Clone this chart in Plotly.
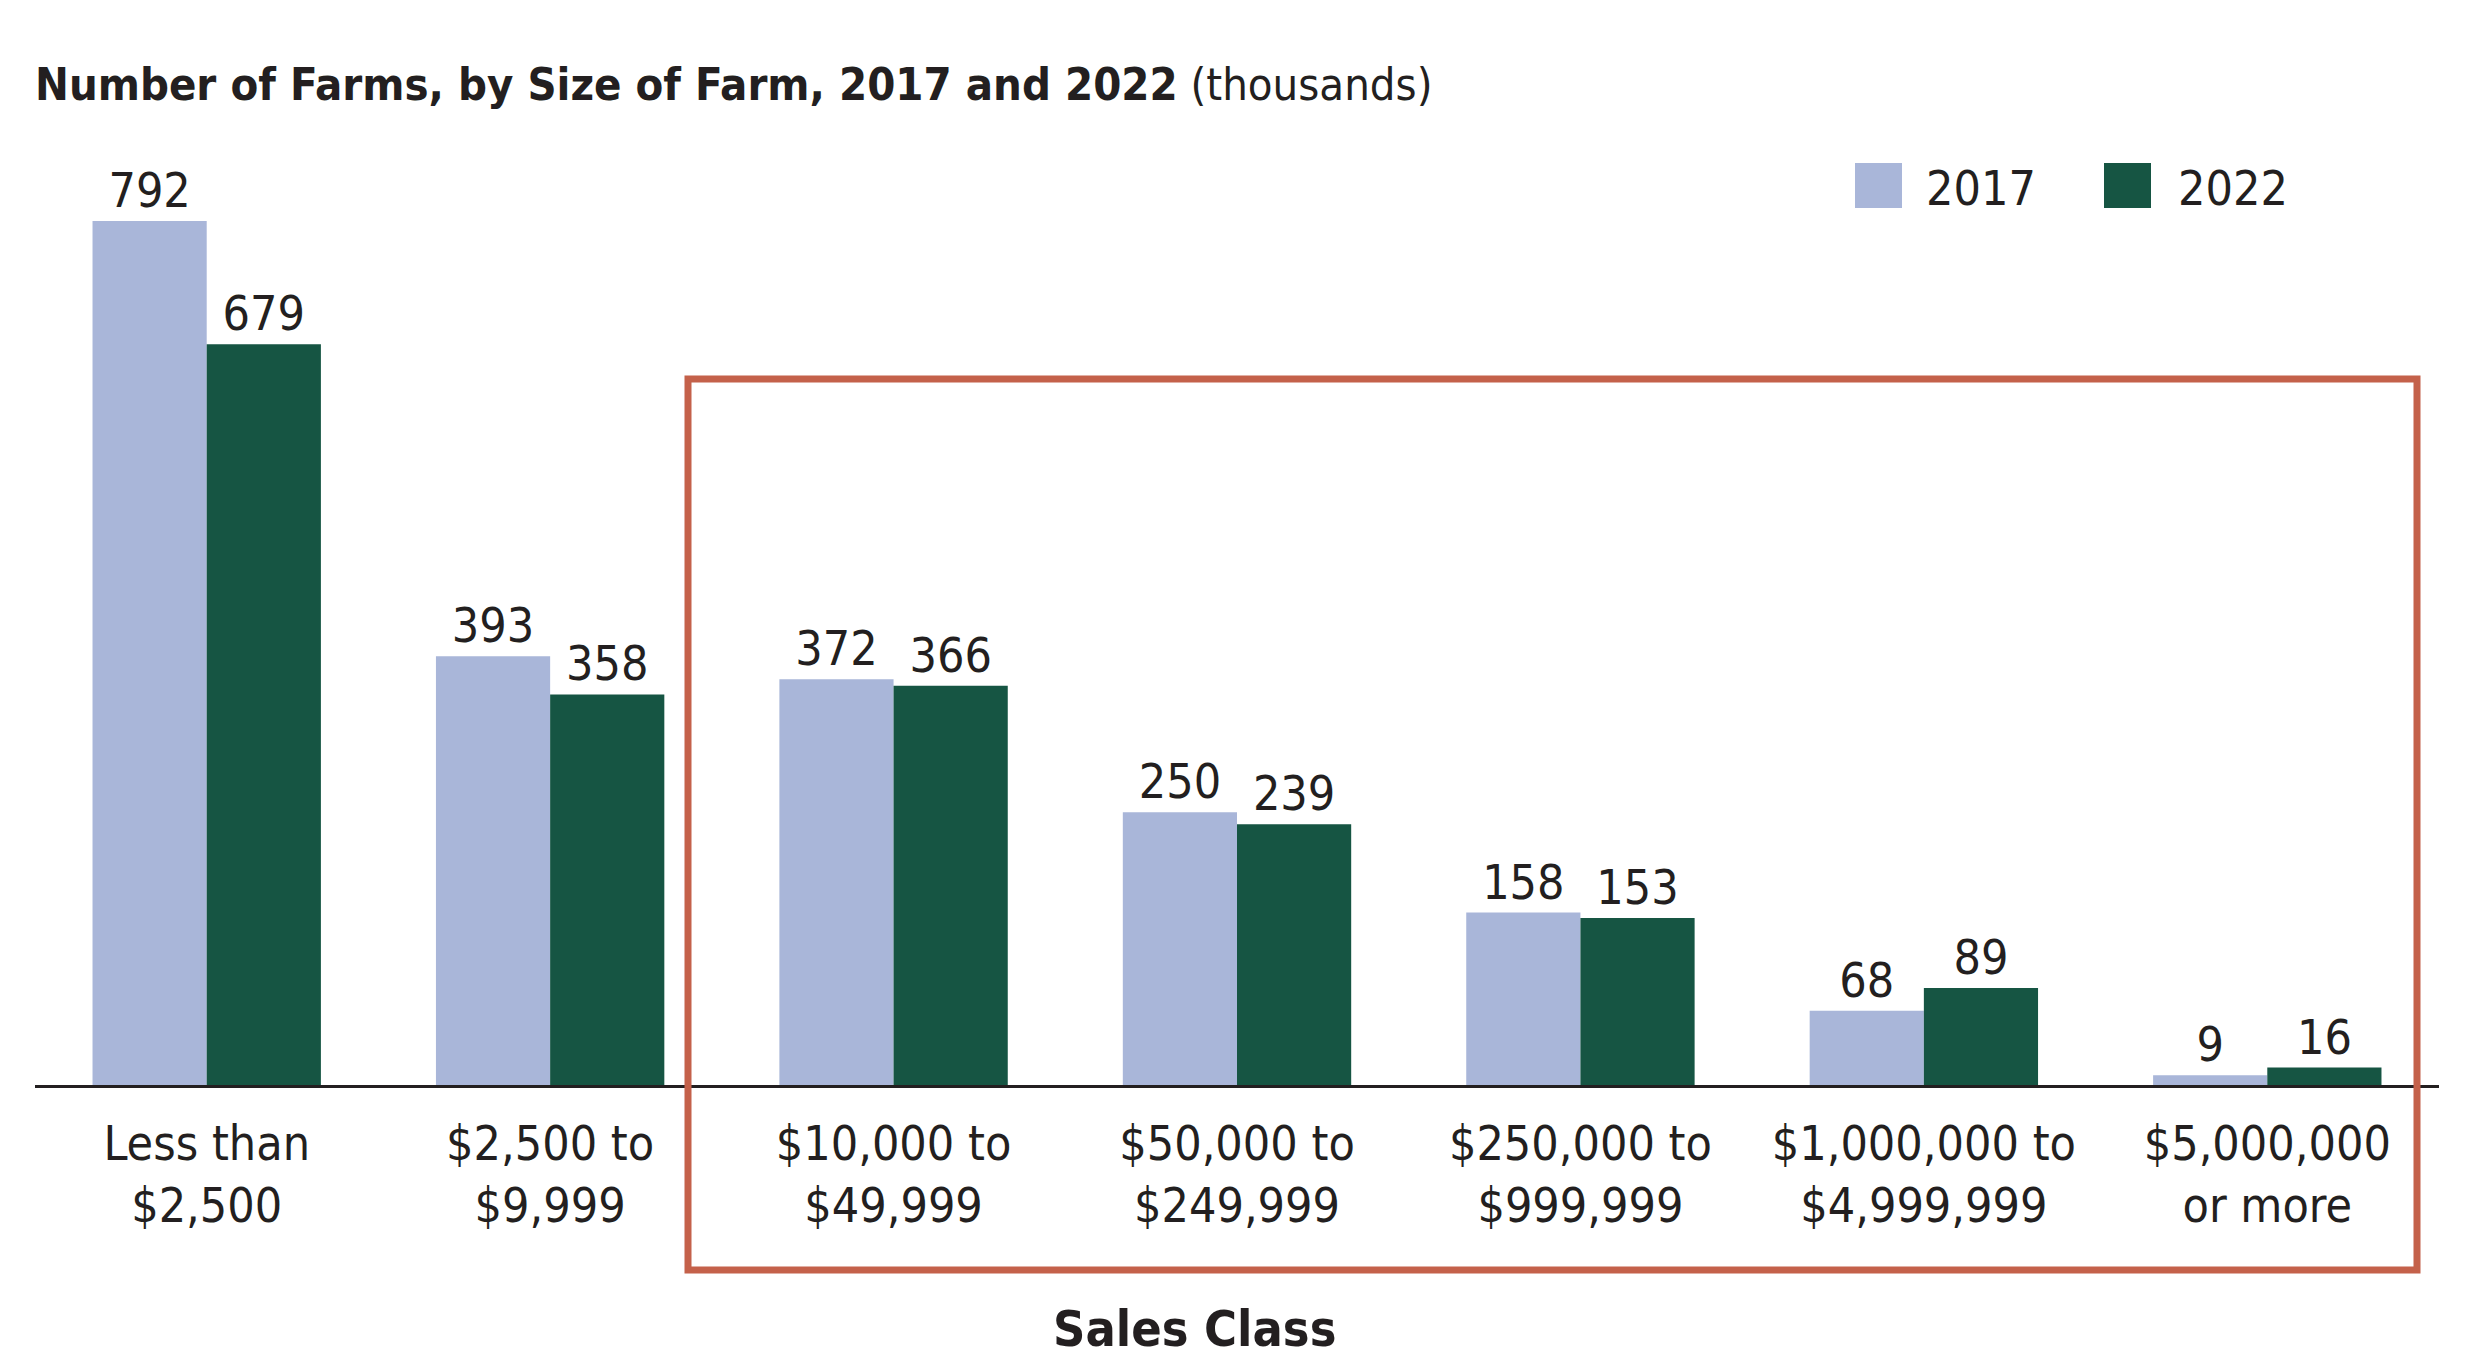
import plotly.graph_objects as go

categories = ["Less than<br>$2,500", "$2,500 to<br>$9,999", "$10,000 to<br>$49,999",
              "$50,000 to<br>$249,999", "$250,000 to<br>$999,999",
              "$1,000,000 to<br>$4,999,999", "$5,000,000<br>or more"]
series_names = ["2017", "2022"]
values_2017 = [792, 393, 372, 250, 158, 68, 9]
values_2022 = [679, 358, 366, 239, 153, 89, 16]
colors = ["#a9b6d9", "#165543"]

FONT = "DejaVu Sans Condensed, Liberation Sans Narrow, sans-serif"
TXT = "#231f20"

W, H = 2480, 1372
L, R, T, B = 35, 41, 180, 287
pw, ph = W - L - R, H - T - B

fig = go.Figure()
for name, vals, col in zip(series_names, [values_2017, values_2022], colors):
    fig.add_trace(go.Bar(
        x=categories, y=vals, name=name, marker=dict(color=col, line=dict(width=0)),
        text=[str(v) for v in vals], textposition="outside", cliponaxis=False,
        textfont=dict(family=FONT, size=48, color=TXT), showlegend=False,
    ))

def px2paper_x(px):
    return (px - L) / pw

def px2paper_y(py):
    return (H - B - py) / ph

shapes = []
annotations = []
# custom legend (large square swatches)
sw_left = [1855, 2104]
txt_left = [1924, 2176]
for name, col, sx, tx in zip(series_names, colors, sw_left, txt_left):
    shapes.append(dict(type="rect", xref="paper", yref="paper",
                       x0=px2paper_x(sx), x1=px2paper_x(sx + 47),
                       y0=px2paper_y(208), y1=px2paper_y(163),
                       fillcolor=col, line=dict(width=0)))
    annotations.append(dict(text=name, xref="paper", yref="paper",
                            x=px2paper_x(tx), y=px2paper_y(188),
                            xanchor="left", yanchor="middle", showarrow=False,
                            font=dict(family=FONT, size=48, color=TXT)))

# highlight box
shapes.append(dict(type="rect", xref="paper", yref="paper",
                   x0=px2paper_x(688), x1=px2paper_x(2417),
                   y0=px2paper_y(1270), y1=px2paper_y(379),
                   line=dict(color="#c4614a", width=7), fillcolor="rgba(0,0,0,0)"))

# axis title
annotations.append(dict(text="<b>Sales Class</b>", xref="paper", yref="paper",
                        x=px2paper_x(1194), y=px2paper_y(1329),
                        xanchor="center", yanchor="middle", showarrow=False,
                        font=dict(family=FONT, size=50, color=TXT)))

fig.update_layout(
    width=W, height=H,
    margin=dict(l=L, r=R, t=T, b=B),
    paper_bgcolor="white", plot_bgcolor="white",
    barmode="group", bargap=0.335, bargroupgap=0,
    title=dict(text="<b>Number of Farms, by Size of Farm, 2017 and 2022</b> (thousands)",
               x=L / W, xanchor="left", xref="container",
               y=1 - 84 / H, yanchor="middle", yref="container",
               font=dict(family=FONT, size=45, color=TXT)),
    xaxis=dict(showline=True, linecolor=TXT, linewidth=3, ticks="",
               showgrid=False, zeroline=False, ticklabelstandoff=14,
               tickfont=dict(family=FONT, size=48, color=TXT)),
    yaxis=dict(visible=False, range=[0, ph / 1.091], showgrid=False, zeroline=False),
    shapes=shapes, annotations=annotations,
)

fig.write_html("out.html")
